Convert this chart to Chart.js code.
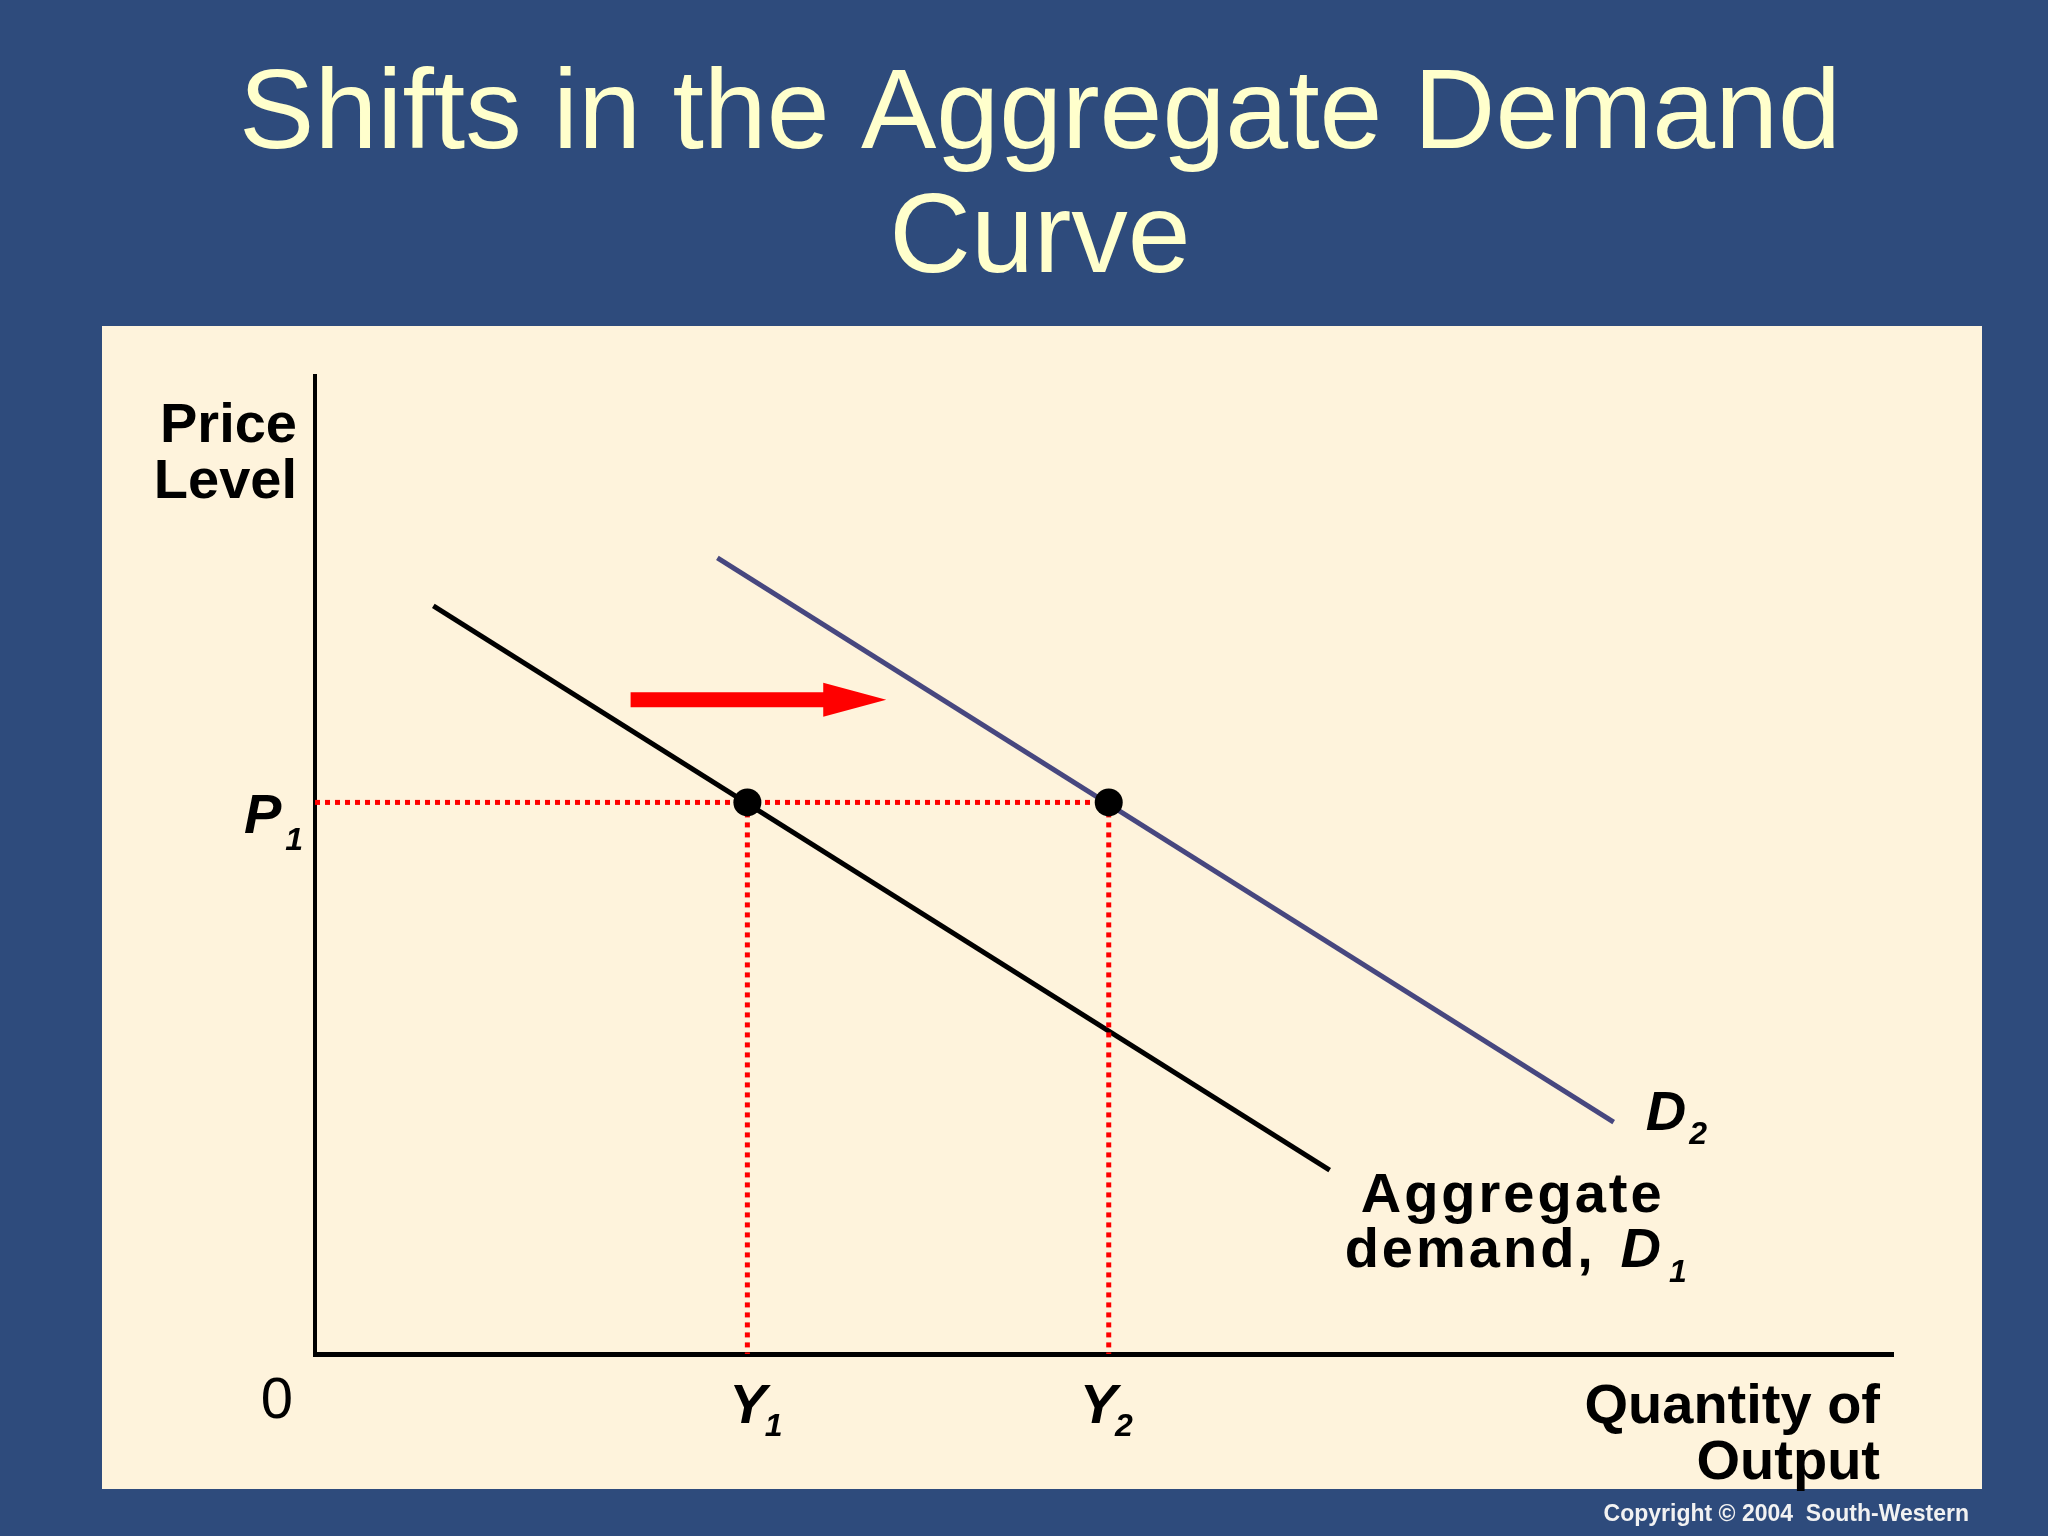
<!DOCTYPE html>
<html>
<head>
<meta charset="utf-8">
<script src="https://cdn.jsdelivr.net/npm/chart.js@4.4.1/dist/chart.umd.min.js"></script>
<style>
html,body{margin:0;padding:0;background:#2E4B7C;overflow:hidden}
#wrap{width:2048px;height:1536px}
canvas{display:block}
</style>
</head>
<body>
<div id="wrap"><canvas id="c" width="2048" height="1536"></canvas></div>
<script>
// ---- data (axis units: quantity 0-100, price level 0-100) ----
const titleLines = ['Shifts in the Aggregate Demand', 'Curve'];
const yAxisTitle = ['Price', 'Level'];
const xAxisTitle = ['Quantity of', 'Output'];
const originLabel = '0';
const priceTickLabel = ['P', '1'];
const qtyTickLabels = [['Y', '1'], ['Y', '2']];
const d1Label = ['Aggregate', 'demand, ', 'D', '1'];
const d2Label = ['D', '2'];
const copyrightText = 'Copyright \u00A9 2004  South-Western';

const d1Qty = [7.5, 64.3];
const d1Price = [76.5, 18.8];
const d2Qty = [25.5, 82.3];
const d2Price = [81.4, 23.7];
const eqQty = [27.4, 50.3];      // Y1, Y2
const eqPrice = [56.4, 56.4];    // P1 at both
const P1 = 56.4;
const arrowQty = [20.0, 36.2];
const arrowPrice = [66.9, 66.9];

// ---- styles ----
const NAVY = '#2E4B7C', CREAM = '#FEF3DC', TITLE = '#FFFFCC', RED = '#FF0000', D2C = '#47477F';
const FONT = '"Liberation Sans", Arial, Helvetica, sans-serif';

const pts = (xs, ys) => xs.map((x, i) => ({x: x, y: ys[i]}));

const bgPlugin = {
  id: 'bg',
  beforeDraw(chart) {
    const ctx = chart.ctx;
    ctx.save();
    ctx.fillStyle = NAVY;
    ctx.fillRect(0, 0, chart.width, chart.height);
    ctx.fillStyle = CREAM;
    ctx.fillRect(102, 326, 1880, 1163);
    ctx.restore();
  }
};

const arrowPlugin = {
  id: 'arrow',
  afterDatasetsDraw(chart) {
    const ctx = chart.ctx, xs = chart.scales.x, ys = chart.scales.y;
    const x0 = xs.getPixelForValue(arrowQty[0]);
    const x1 = xs.getPixelForValue(arrowQty[1]);
    const y = ys.getPixelForValue(arrowPrice[0]);
    const headLen = 63, headHalf = 17, shaftHalf = 7.5;
    ctx.save();
    ctx.fillStyle = RED;
    ctx.beginPath();
    ctx.moveTo(x0, y - shaftHalf);
    ctx.lineTo(x1 - headLen, y - shaftHalf);
    ctx.lineTo(x1 - headLen, y - headHalf);
    ctx.lineTo(x1, y);
    ctx.lineTo(x1 - headLen, y + headHalf);
    ctx.lineTo(x1 - headLen, y + shaftHalf);
    ctx.lineTo(x0, y + shaftHalf);
    ctx.closePath();
    ctx.fill();
    ctx.restore();
  }
};

function mainSub(ctx, main, sub, x, base, mainFont, subFont, gap, drop) {
  ctx.font = mainFont;
  ctx.textAlign = 'left';
  ctx.fillText(main, x, base);
  const w = ctx.measureText(main).width;
  ctx.font = subFont;
  ctx.fillText(sub, x + w + gap, base + drop);
}

const textPlugin = {
  id: 'texts',
  afterDraw(chart) {
    const ctx = chart.ctx, xs = chart.scales.x, ys = chart.scales.y;
    const area = chart.chartArea;
    ctx.save();
    ctx.textBaseline = 'alphabetic';

    // title
    ctx.fillStyle = TITLE;
    ctx.font = '113px ' + FONT;
    ctx.textAlign = 'center';
    ctx.fillText(titleLines[0], 1040, 148);
    ctx.fillText(titleLines[1], 1040, 272);

    // copyright
    ctx.fillStyle = '#F2F2F2';
    ctx.font = 'bold 23px ' + FONT;
    ctx.textAlign = 'right';
    ctx.fillText(copyrightText, 1969, 1521);

    ctx.fillStyle = '#000000';
    const bold56 = 'bold 56px ' + FONT;
    const it56 = 'italic bold 56px ' + FONT;
    const it32 = 'italic bold 32px ' + FONT;

    // y axis title
    ctx.font = bold56;
    ctx.textAlign = 'right';
    ctx.fillText(yAxisTitle[0], area.left - 18, 442);
    ctx.fillText(yAxisTitle[1], area.left - 18, 498);

    // x axis title
    ctx.fillText(xAxisTitle[0], 1880, 1423);
    ctx.fillText(xAxisTitle[1], 1880, 1479);

    // origin
    ctx.font = '58px ' + FONT;
    ctx.textAlign = 'center';
    ctx.fillText(originLabel, 277, 1418);

    // P1
    const py = ys.getPixelForValue(P1);
    mainSub(ctx, priceTickLabel[0], priceTickLabel[1], 244, py + 31, it56, it32, 4, 17);

    // Y1, Y2
    const nudges = [-18, -29];
    qtyTickLabels.forEach((lab, i) => {
      const px = xs.getPixelForValue(eqQty[i]);
      mainSub(ctx, lab[0], lab[1], px + nudges[i], area.bottom + 69, it56, it32, -2, 13);
    });

    // D2 label
    const d2x = xs.getPixelForValue(d2Qty[1]);
    const d2y = ys.getPixelForValue(d2Price[1]);
    mainSub(ctx, d2Label[0], d2Label[1], d2x + 32, d2y + 8, it56, it32, 3, 14);

    // D1 label
    const d1x = xs.getPixelForValue(d1Qty[1]);
    const d1y = ys.getPixelForValue(d1Price[1]);
    ctx.font = bold56;
    ctx.textAlign = 'center';
    ctx.letterSpacing = '3px';
    ctx.fillText(d1Label[0], d1x + 183, d1y + 42);
    ctx.textAlign = 'left';
    const lx = d1x + 15, lb = d1y + 97;
    ctx.fillText(d1Label[1], lx, lb);
    const w = ctx.measureText(d1Label[1]).width;
    ctx.letterSpacing = '0px';
    mainSub(ctx, d1Label[2], d1Label[3], lx + w + 6, lb, it56, it32, 8, 15);

    ctx.restore();
  }
};

new Chart(document.getElementById('c'), {
  type: 'scatter',
  data: {
    datasets: [
      {
        label: 'Equilibria',
        data: pts(eqQty, eqPrice),
        pointRadius: 14,
        pointBackgroundColor: '#000',
        pointBorderColor: '#000',
        pointBorderWidth: 0,
        showLine: false
      },
      {
        label: 'P1 guide',
        data: [{x: 0, y: P1}, {x: eqQty[1], y: P1}],
        showLine: true, borderColor: RED, borderWidth: 5, borderDash: [5, 5],
        pointRadius: 0, borderCapStyle: 'butt'
      },
      {
        label: 'Y1 guide',
        data: [{x: eqQty[0], y: P1}, {x: eqQty[0], y: 0}],
        showLine: true, borderColor: RED, borderWidth: 5, borderDash: [5, 5],
        pointRadius: 0, borderCapStyle: 'butt'
      },
      {
        label: 'Y2 guide',
        data: [{x: eqQty[1], y: P1}, {x: eqQty[1], y: 0}],
        showLine: true, borderColor: RED, borderWidth: 5, borderDash: [5, 5],
        pointRadius: 0, borderCapStyle: 'butt'
      },
      {
        label: 'D1',
        data: pts(d1Qty, d1Price),
        showLine: true, borderColor: '#000', borderWidth: 5, pointRadius: 0
      },
      {
        label: 'D2',
        data: pts(d2Qty, d2Price),
        showLine: true, borderColor: D2C, borderWidth: 5, pointRadius: 0
      }
    ]
  },
  options: {
    responsive: false,
    devicePixelRatio: 1,
    animation: false,
    events: [],
    layout: {padding: {left: 315, right: 155, top: 376, bottom: 182}},
    plugins: {legend: {display: false}, tooltip: {enabled: false}, title: {display: false}},
    scales: {
      x: {
        type: 'linear', min: 0, max: 100,
        grid: {display: false, drawTicks: false, tickLength: 0},
        ticks: {display: false},
        border: {display: true, color: '#000', width: 5}
      },
      y: {
        type: 'linear', min: 0, max: 100,
        grid: {display: false, drawTicks: false, tickLength: 0},
        ticks: {display: false},
        border: {display: true, color: '#000', width: 4}
      }
    }
  },
  plugins: [bgPlugin, arrowPlugin, textPlugin]
});
</script>
</body>
</html>
